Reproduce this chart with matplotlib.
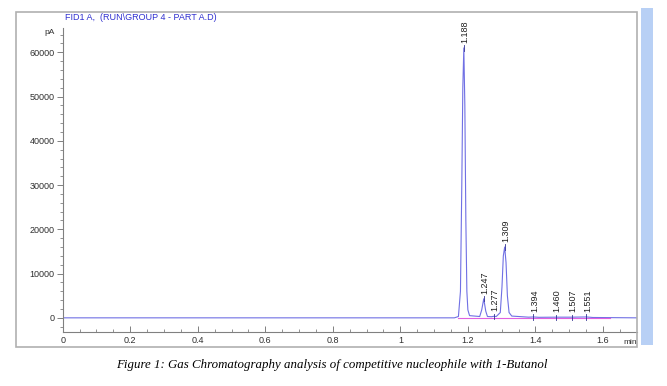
import matplotlib.pyplot as plt
from matplotlib.patches import Rectangle

# chromatogram trace (min, pA)
t = [0.0, 1.160, 1.172, 1.178, 1.182, 1.185, 1.188, 1.191, 1.194, 1.197, 1.200, 1.205,
     1.235, 1.241, 1.247, 1.253, 1.258, 1.270, 1.277, 1.284, 1.296, 1.301, 1.305, 1.309,
     1.313, 1.317, 1.322, 1.330, 1.380, 1.394, 1.410, 1.460, 1.507, 1.551, 1.570, 1.700]
signal = [0, 0, 300, 6000, 30000, 52000, 61000, 48000, 22000, 6000, 1800, 500,
          300, 1800, 4300, 1500, 300, 250, 350, 300, 1200, 7000, 14000, 16000,
          12500, 5000, 1200, 400, 150, 200, 120, 150, 150, 200, 80, 0]

# integrated peaks: retention time and apex height
peak_rt = [1.188, 1.247, 1.277, 1.309, 1.394, 1.460, 1.507, 1.551]
peak_h = [61000, 4300, 350, 16000, 200, 150, 150, 200]

# integration baseline
base_t = [1.170, 1.620]
base_y = [0, 0]

fig = plt.figure(figsize=(6.67, 3.86), dpi=100)
plt.rcParams['font.family'] = ['Liberation Sans', 'DejaVu Sans']

# outer frame and side bar
fig.add_artist(Rectangle((16 / 667, 1 - 347 / 386), 621 / 667, 335 / 386,
                         transform=fig.transFigure, fill=False, ec='#b0b0b0', lw=1.2))
fig.add_artist(Rectangle((641 / 667, 1 - 345 / 386), 12 / 667, 337 / 386,
                         transform=fig.transFigure, fc='#b8d0f5', ec='none'))

ax = fig.add_axes([62.7 / 667, 1 - 332 / 386, 574 / 667, 304 / 386])
ax.plot(t, signal, color='#7070e4', lw=0.8)
ax.plot(base_t, base_y, color='#e060e0', lw=0.8)

for rt, h in zip(peak_rt, peak_h):
    ax.plot([rt, rt], [h - 600, h + 600], color='#303090', lw=0.6)
    ax.text(rt + 0.003, h + 1200, f'{rt:.3f}', rotation=90, fontsize=6.5,
            ha='center', va='bottom', color='#202020')

ax.set_xlim(0, 1.70)
ax.set_ylim(-3200, 65500)
ax.set_xticks([0, 0.2, 0.4, 0.6, 0.8, 1, 1.2, 1.4, 1.6])
ax.set_xticklabels(['0', '0.2', '0.4', '0.6', '0.8', '1', '1.2', '1.4', '1.6'])
ax.set_xticks([i * 0.05 for i in range(34)], minor=True)
ax.set_yticks([0, 10000, 20000, 30000, 40000, 50000, 60000])
ax.set_yticks(range(-2000, 64001, 2000), minor=True)

for s in ['top', 'right']:
    ax.spines[s].set_visible(False)
for s in ['left', 'bottom']:
    ax.spines[s].set_color('#808080')
    ax.spines[s].set_linewidth(0.8)
ax.tick_params(axis='y', which='major', length=4, width=0.7, color='#808080',
               labelsize=6.5, pad=2, labelcolor='#303030')
ax.tick_params(axis='y', which='minor', length=2, width=0.6, color='#808080')
ax.tick_params(axis='x', which='major', direction='in', length=4, width=0.7,
               color='#808080', labelsize=6.5, pad=3, labelcolor='#303030')
ax.tick_params(axis='x', which='minor', direction='in', length=2, width=0.6, color='#808080')

fig.text(50 / 667, 1 - 33 / 386, 'pA', fontsize=6, ha='center', va='center', color='#303030')
fig.text(630 / 667, 1 - 342 / 386, 'min', fontsize=6, ha='center', va='center', color='#303030')
fig.text(65 / 667, 1 - 17 / 386, 'FID1 A,  (RUN\\GROUP 4 - PART A.D)', fontsize=6.5,
         ha='left', va='center', color='#3030d0')

fig.text(332 / 667, 1 - 365 / 386,
         'Figure 1: Gas Chromatography analysis of competitive nucleophile with 1-Butanol',
         fontsize=9.3, fontstyle='italic', family='Liberation Serif', ha='center', va='center')

fig.savefig('out.png', dpi=100)
